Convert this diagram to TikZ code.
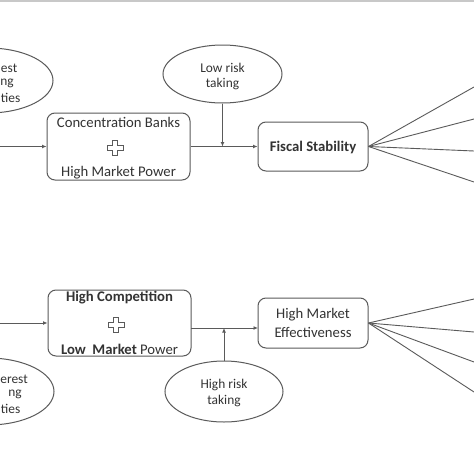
\documentclass[tikz,border=0pt]{standalone}
\usepackage{fontspec}
\setmainfont{Carlito}
\usetikzlibrary{arrows.meta,shapes.geometric}
\definecolor{txt}{HTML}{333333}
\definecolor{ln}{HTML}{5A5A5A}
\definecolor{topln}{HTML}{C8C8C8}
\tikzset{
  boxnode/.style={draw=ln, line width=1pt, rounded corners=8pt, inner sep=0pt},
  ellnode/.style={draw=ln, line width=1pt, ellipse, inner sep=0pt},
  btext/.style={text=txt, font=\fontsize{14.7}{16}\selectfont, inner sep=0pt},
  etext/.style={text=txt, font=\fontsize{13.4}{15}\selectfont, inner sep=0pt},
  conn/.style={draw=ln, line width=0.9pt},
  arr/.style={conn, -{Latex[length=4.5pt,width=4pt]}},
  plusshape/.style={draw=ln, line width=0.9pt, fill=white}
}
\newcommand{\plusat}[2]{%
  \draw[plusshape] (#1-2.5,#2-7.5) -- (#1+2.5,#2-7.5) -- (#1+2.5,#2-2.5) -- (#1+8,#2-2.5) -- (#1+8,#2+2.5) -- (#1+2.5,#2+2.5) -- (#1+2.5,#2+7.5) -- (#1-2.5,#2+7.5) -- (#1-2.5,#2+2.5) -- (#1-8,#2+2.5) -- (#1-8,#2-2.5) -- (#1-2.5,#2-2.5) -- cycle;}
\begin{document}
\begin{tikzpicture}[x=1pt,y=-1pt]
\useasboundingbox (0,0) rectangle (474,474);
\clip (0,0) rectangle (474,474);
\fill[white] (0,0) rectangle (474,474);
\fill[topln] (0,0) rectangle (474,2);

% ---------- top half ----------
\node[ellnode, minimum width=130pt, minimum height=65pt] (lefttop) at (-12,80.5) {};
\node[etext, anchor=west] (lt1) at (0.8,68) {est};
\node[etext, anchor=east] (lt2) at (14,83) {ng};
\node[etext, anchor=west] (lt3) at (0.8,98) {ties};

\node[boxnode, minimum width=143pt, minimum height=67pt] (box1) at (118.5,146.5) {};
\node[btext] (b1a) at (118.5,122) {Concentration Banks};
\node[btext] (b1b) at (118.5,173) {High Market Power};
\plusat{115}{147.5}

\node[ellnode, minimum width=119pt, minimum height=58pt] (lowrisk) at (222.5,74) {};
\node[etext] (lr1) at (222.5,68) {Low risk};
\node[etext] (lr2) at (222.5,83.5) {taking};

\node[boxnode, minimum width=110pt, minimum height=49pt] (fiscal) at (313,146.5) {};
\node[btext, font=\fontsize{14.7}{16}\selectfont\bfseries] (fst) at (313,147) {Fiscal Stability};

\coordinate (in1) at (0,146.5);
\draw[arr] (in1) -- (box1.west);
\draw[arr] (box1.east) -- (fiscal.west);
\coordinate (j1) at (222.5,146.5);
\draw[arr] (lowrisk.south) -- (j1);

\coordinate (f1) at (474,87);
\coordinate (f2) at (474,119);
\coordinate (f3) at (474,151);
\coordinate (f4) at (474,182);
\foreach \p in {f1,f2,f3,f4} \draw[conn] (fiscal.east) -- (\p);

% ---------- bottom half ----------
\node[ellnode, minimum width=132pt, minimum height=67pt] (leftbot) at (-12,391.5) {};
\node[etext, anchor=east] (lb1) at (28,379) {erest};
\node[etext, anchor=east] (lb2) at (22,394.5) {ng};
\node[etext, anchor=west] (lb3) at (0.8,409) {ties};

\node[boxnode, minimum width=143pt, minimum height=66pt] (box2) at (119.5,323) {};
\node[btext, font=\fontsize{14.7}{16}\selectfont\bfseries] (b2a) at (119.5,298) {High Competition};
\node[btext] (b2b) at (119.5,349) {\textbf{Low\ \ Market} Power};
\plusat{116}{325}

\node[boxnode, minimum width=110pt, minimum height=50pt] (hme) at (313,323) {};
\node[btext] (h1) at (313,315) {High Market};
\node[btext] (h2) at (313,332) {Effectiveness};

\node[ellnode, minimum width=118pt, minimum height=61pt] (highrisk) at (224,391.5) {};
\node[etext] (hr1) at (224,385) {High risk};
\node[etext] (hr2) at (224,400.5) {taking};

\coordinate (in2) at (0,323);
\draw[arr] (in2) -- (box2.west);
\coordinate (o2) at (191,328);
\coordinate (e2) at (258,328);
\draw[arr] (o2) -- (e2);
\coordinate (j2) at (224,328);
\draw[arr] (highrisk.north) -- (j2);

\coordinate (g1) at (474,299);
\coordinate (g2) at (474,332);
\coordinate (g3) at (474,362);
\coordinate (g4) at (474,392);
\foreach \p in {g1,g2,g3,g4} \draw[conn] (hme.east) -- (\p);
\end{tikzpicture}
\end{document}
